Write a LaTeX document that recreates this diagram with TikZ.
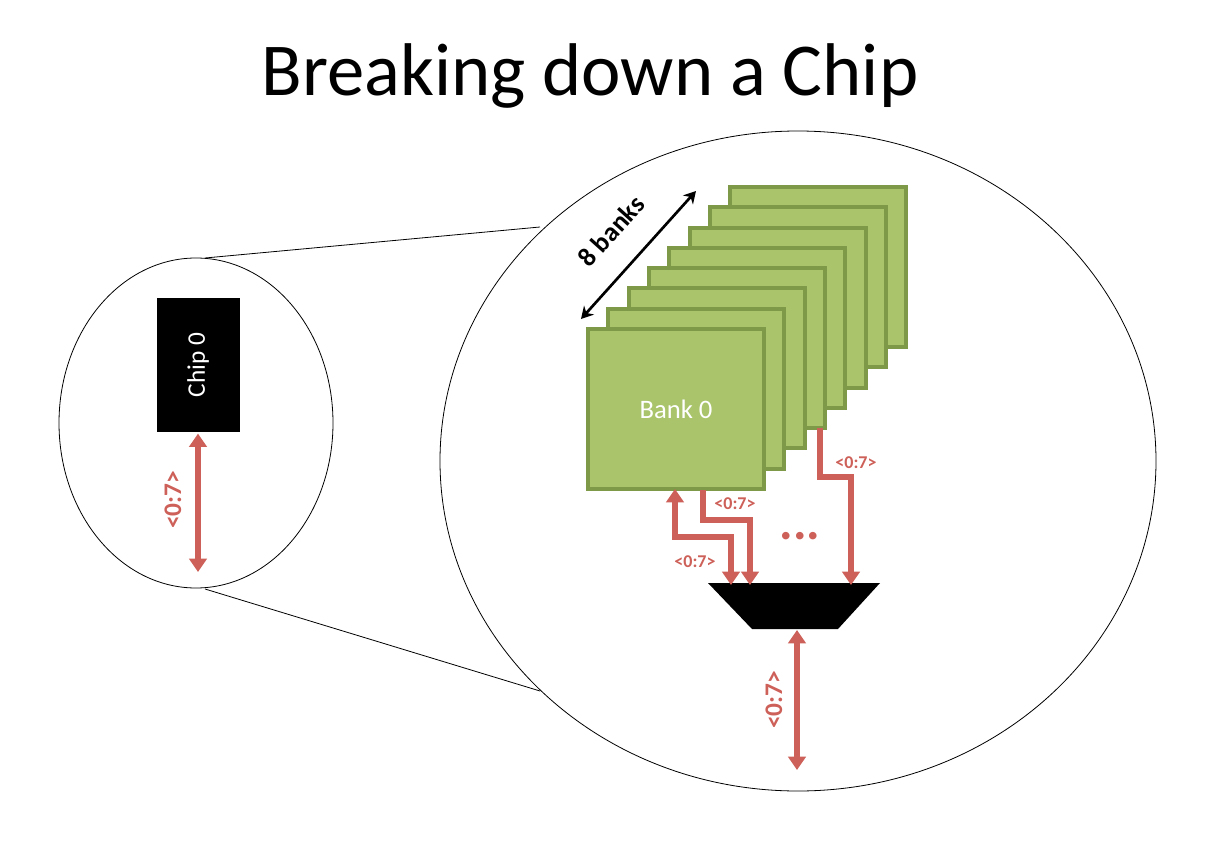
\documentclass[tikz,border=0pt]{standalone}
\usepackage{fontspec}
\setmainfont{Carlito}
\usetikzlibrary{arrows.meta,shapes.geometric}
\definecolor{bus}{RGB}{205,96,88}
\definecolor{bankfill}{RGB}{169,196,106}
\definecolor{bankdraw}{RGB}{126,154,72}
\begin{document}
\begin{tikzpicture}[x=0.75pt,y=-0.75pt,
  bank/.style={draw=bankdraw,fill=bankfill,line width=3pt,minimum width=176*0.75pt,minimum height=160*0.75pt,inner sep=0},
  bus/.style={draw=bus,line width=4.5pt,{Triangle[width=13pt,length=10pt]}-{Triangle[width=13pt,length=10pt]}},
  busone/.style={draw=bus,line width=4.5pt,-{Triangle[width=13pt,length=10pt]}},
  lbl/.style={text=bus,font=\bfseries\fontsize{13.5}{15}\selectfont},
  biglbl/.style={text=bus,font=\bfseries\fontsize{19}{22}\selectfont,rotate=90}]
\useasboundingbox (0,0) rectangle (1208,867);
\node (title) at (590,76) {\fontsize{56}{64}\selectfont Breaking down a Chip};
% circles
\node[draw,ellipse,minimum width=274*0.75pt,minimum height=330*0.75pt,line width=0.6pt] (small) at (196,423) {};
\node[draw,ellipse,minimum width=716*0.75pt,minimum height=660*0.75pt,line width=0.6pt] (big) at (798,461) {};
\coordinate (st) at (205,258); \coordinate (bt) at (540,227);
\coordinate (sb) at (205,589); \coordinate (bb) at (540,691);
\draw[line width=0.6pt] (st) -- (bt) (sb) -- (bb);
% chip
\node[fill=black,minimum width=83*0.75pt,minimum height=134*0.75pt,inner sep=0] (chip) at (198,365) {};
\node[text=white,rotate=90,font=\fontsize{19}{22}\selectfont] (chiplbl) at (chip) {Chip 0};
\coordinate (chipend) at (198,572);
\draw[bus] ([yshift=-1pt]chip.south) -- (chipend);
\node[biglbl] (l0) at (173,500) {<0:7>};
% banks
\foreach \i in {7,6,...,1}{
  \node[bank] (b\i) at ({676+20.3*\i},{409-20.3*\i}) {};
}
\node[bank] (b0) at (676,409) {};
\node[text=white,font=\fontsize{20}{24}\selectfont] (b0l) at (b0) {Bank 0};
% 8 banks
\coordinate (ea) at (581,319); \coordinate (eb) at (696,191);
\draw[line width=2pt,{Stealth[width=10pt,length=9pt]}-{Stealth[width=10pt,length=9pt]}] (ea) -- (eb);
\node[rotate=48,font=\bfseries\fontsize{20}{24}\selectfont] (nb) at (611,231) {8 banks};
% mux
\fill (708,583) -- (880,583) -- (838,629) -- (752,629) -- cycle;
\coordinate (muxs) at (797,630);
% buses
\coordinate (a0) at (675,489); \coordinate (a1) at (675,537); \coordinate (a2) at (731,537); \coordinate (a3) at (731,585);
\draw[bus] (a0) -- (a1) -- (a2) -- (a3);
\coordinate (c0) at (703,490); \coordinate (c1) at (703,520); \coordinate (c2) at (750,520); \coordinate (c3) at (750,585);
\draw[busone] (c0) -- (c1) -- (c2) -- (c3);
\coordinate (d0) at (820,428); \coordinate (d1) at (820,477); \coordinate (d2) at (851,477); \coordinate (d3) at (851,585);
\draw[busone] (d0) -- (d1) -- (d2) -- (d3);
\node[lbl] (l1) at (735,504) {<0:7>};
\node[lbl] (l2) at (695,562) {<0:7>};
\node[lbl] (l3) at (856,463) {<0:7>};
\node[text=bus,font=\bfseries\fontsize{38}{38}\selectfont] (dots) at (800,536) {...};
\coordinate (mend) at (797,770);
\draw[bus] (muxs) -- (mend);
\node[biglbl] (l4) at (774,700) {<0:7>};
\end{tikzpicture}
\end{document}
